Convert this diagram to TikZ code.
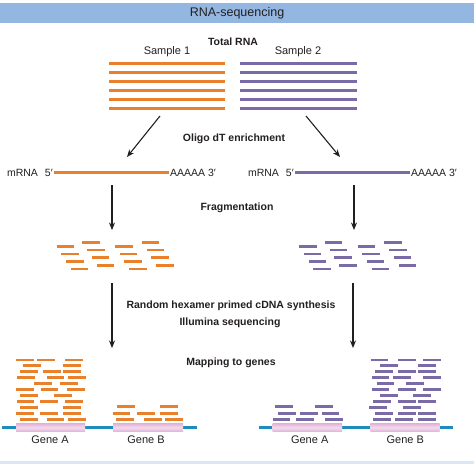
\documentclass[tikz,border=0pt]{standalone}
\usepackage{fontspec}
\setmainfont{Liberation Sans}
\usepackage{tikz}
\usetikzlibrary{arrows.meta}

\definecolor{rnaorange}{HTML}{E8802C}
\definecolor{rnapurple}{HTML}{7A6BA6}
\definecolor{genepink}{HTML}{E3B0D8}
\definecolor{dnablue}{HTML}{1F8CC0}
\definecolor{headblue}{HTML}{93B7E1}
\definecolor{footblue}{HTML}{DCE7F6}
\definecolor{inkgray}{HTML}{231F20}

\tikzset{
  stagelabel/.style={font=\fontsize{10.5}{12}\selectfont\bfseries,text=inkgray},
  txt/.style={font=\fontsize{11}{13}\selectfont,text=inkgray},
  strand/.style={line width=3.2pt},
  readbar/.style={line width=2.5pt},
  flow/.style={->,line width=1.1pt,draw=inkgray},
}

\begin{document}
\begin{tikzpicture}[x=1pt,y=-1pt,>={Stealth[length=7.5pt,width=6pt]}]
\useasboundingbox (0,0) rectangle (474,464);

% header and footer bands
\fill[headblue] (0,2.5) rectangle (474,23);
\node[font=\fontsize{12.5}{14}\selectfont,text=inkgray] (title) at (237,13) {RNA-sequencing};
\fill[footblue] (0,461) rectangle (474,464);

% total RNA
\node[stagelabel] (total) at (233,41.7) {Total RNA};
\node[txt] (samp1) at (167,52) {Sample 1};
\node[txt] (samp2) at (298,52) {Sample 2};
\foreach \i in {0,...,5}{
\draw[strand,rnaorange] (109,63.3+9*\i) -- ++(116,0);
\draw[strand,rnapurple] (240,63.3+9*\i) -- ++(117,0);
}

\coordinate (tot1) at (160,116);
\coordinate (tot2) at (306,116);
\coordinate (mrna1) at (127,157);
\coordinate (mrna2) at (340,157);
\draw[flow] (tot1) -- (mrna1);
\draw[flow] (tot2) -- (mrna2);
\node[stagelabel] (oligo) at (234,139) {Oligo dT enrichment};

% mRNA
\draw[strand,rnaorange] (54,172.7) -- (169,172.7);
\node[txt,font=\fontsize{10.5}{12}\selectfont,anchor=east,inner sep=1pt] (five1) at (54,172.7) {mRNA\hspace{7pt}5′};
\node[txt,font=\fontsize{10.5}{12}\selectfont,anchor=west,inner sep=1pt] (three1) at (169,172.7) {AAAAA 3′};
\draw[strand,rnapurple] (295,172.7) -- (410,172.7);
\node[txt,font=\fontsize{10.5}{12}\selectfont,anchor=east,inner sep=1pt] (five2) at (295,172.7) {mRNA\hspace{7pt}5′};
\node[txt,font=\fontsize{10.5}{12}\selectfont,anchor=west,inner sep=1pt] (three2) at (410,172.7) {AAAAA 3′};

\coordinate (up1) at (112,185);
\coordinate (up2) at (354,185);
\coordinate (frag1) at (112,230);
\coordinate (frag2) at (354,230);
\draw[flow] (up1) -- (frag1);
\draw[flow] (up2) -- (frag2);
\node[stagelabel] (frag) at (237,208) {Fragmentation};

% fragments
\foreach \s/\c in {0/rnaorange,242.5/rnapurple}
\foreach \k in {0,...,3}{
\draw[readbar,\c] ({82.3+\s+4.8*\k},{242.5+7.6*\k}) -- ++(17.5,0);
\draw[readbar,\c] ({141.7+\s+4.8*\k},{242.5+7.6*\k}) -- ++(17.5,0);
\draw[readbar,\c] ({56.7+\s+4.7*\k},{246.3+7.6*\k}) -- ++(17.5,0);
\draw[readbar,\c] ({115+\s+4.7*\k},{246.3+7.6*\k}) -- ++(17.5,0);
}

\coordinate (down1) at (112,283);
\coordinate (down2) at (353,283);
\coordinate (map1) at (112,348);
\coordinate (map2) at (353,348);
\draw[flow] (down1) -- (map1);
\draw[flow] (down2) -- (map2);
\node[stagelabel] (cdna) at (231,305.7) {Random hexamer primed cDNA synthesis};
\node[stagelabel] (illum) at (230,322.7) {Illumina sequencing};
\node[stagelabel] (mapping) at (231,362.7) {Mapping to genes};

% genomes
\draw[dnablue,line width=2.7pt] (2,427.7) -- (197,427.7);
\draw[dnablue,line width=2.7pt] (258.7,427.7) -- (453,427.7);
\foreach \a/\b in {16/85,113/183,272.7/342,370.3/439.7}
\shade[top color=genepink,bottom color=genepink,middle color=genepink!45] (\a,423.3) rectangle (\b,431.7);

% mapped reads
\foreach \x/\y in {16/360,37.3/360,65/360, 23.3/365.7,63.3/365.7, 20/371.7,43.3/371.7,63.3/371.7,
  17.3/377.3,46.7/377.3,68.3/377.3, 34/383.3,60/383.3, 16/389.3,40.7/389.3,67.3/389.3,
  20/395.3,54/395.3, 16.7/401.3,40/401.3,65/401.3, 20/407.3,63.3/407.3,
  16/413.3,40/413.3,63.3/413.3, 20/419.3,46.7/419.3,68.3/419.3,
  117.3/406.7,160/406.7, 112.7/413.3,137.3/413.3,160/413.3, 116/419.3,144/419.3,165/419.3}
\draw[readbar,rnaorange] (\x,\y) -- ++(17.5,0);

\foreach \x/\y in {275/406.7,315/406.7, 278.3/413.3,300/413.3,321.7/413.3, 272.7/419.3,296/419.3,325/419.3,
  370.7/360,398.3/360,423.3/360, 380/365.7,418.3/365.7, 375/371.7,398.3/371.7,418.3/371.7,
  371.7/377.3,393.3/377.3,423.3/377.3, 376.7/383.3,406/383.3, 371.7/389.3,398.3/389.3,423.3/389.3,
  380/395.3,413.3/395.3, 373.3/401.3,398.3/401.3,418.3/401.3, 369.3/407.3,403.3/407.3,
  375/413.3,398.3/413.3,418.3/413.3, 373.3/419.3,395/419.3,418.3/419.3}
\draw[readbar,rnapurple] (\x,\y) -- ++(17.5,0);

\node[txt] (geneA1) at (50,440) {Gene A};
\node[txt] (geneB1) at (146,440) {Gene B};
\node[txt] (geneA2) at (309.7,440) {Gene A};
\node[txt] (geneB2) at (405.3,440) {Gene B};
\end{tikzpicture}
\end{document}
